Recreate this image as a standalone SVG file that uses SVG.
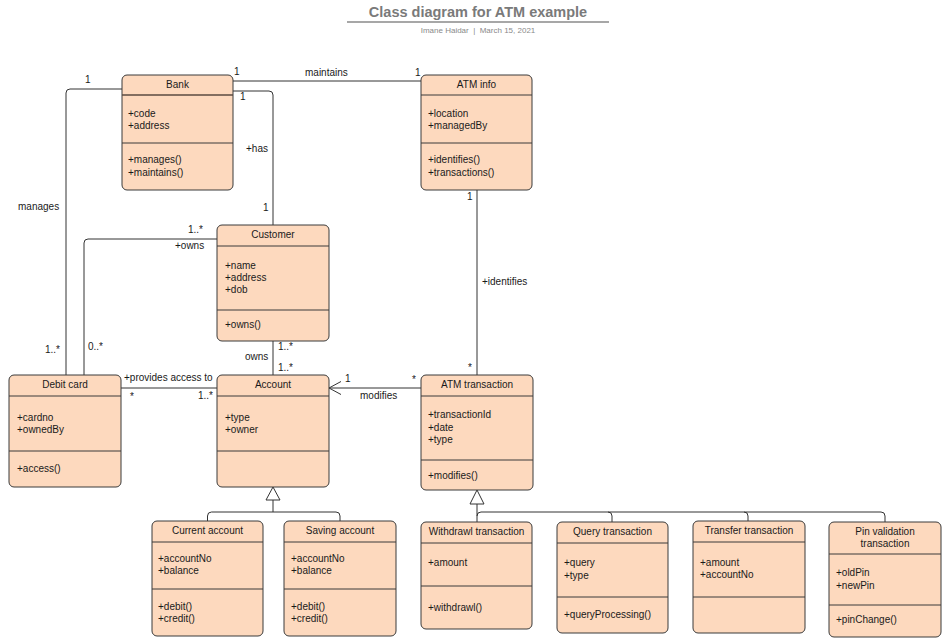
<svg xmlns="http://www.w3.org/2000/svg" width="951" height="644" viewBox="0 0 951 644">
<style>
  .box { fill: #fdd9be; stroke: #3a3a3a; stroke-width: 1; }
  .sep { stroke: #3a3a3a; stroke-width: 1; fill: none; }
  .hsep { stroke: #5a4a40; stroke-width: 1.4; fill: none; }
  .hd { font-family: "Liberation Sans", Arial, sans-serif; font-size: 10px; fill: #1a1a1a; text-anchor: middle; }
  .tx { font-family: "Liberation Sans", Arial, sans-serif; font-size: 10px; fill: #1a1a1a; }
  .lb { font-family: "Liberation Sans", Arial, sans-serif; font-size: 10px; fill: #1a1a1a; }
  .ln { stroke: #333333; stroke-width: 1; fill: none; }
  .tri { fill: #ffffff; stroke: #333333; stroke-width: 1; }
</style>
<rect width="951" height="644" fill="#ffffff"/>

<g id="title">
  <text x="478" y="17" font-family="Liberation Sans, Arial, sans-serif" font-size="14.5" font-weight="bold" fill="#7a7a7a" text-anchor="middle">Class diagram for ATM example</text>
  <line x1="347" y1="22" x2="609" y2="22" stroke="#8a8a8a" stroke-width="1.5"/>
  <text x="478" y="32.5" font-family="Liberation Sans, Arial, sans-serif" font-size="8" fill="#8a8a8a" text-anchor="middle">Imane Haidar &#160;|&#160; March 15, 2021</text>
</g>

<g id="connectors">
  <!-- Bank - ATM info -->
  <path class="ln" d="M233,81 H421"/>
  <!-- Bank - Customer -->
  <path class="ln" d="M233,91 H269 Q273,91 273,95 V225"/>
  <!-- Bank - Debit card -->
  <path class="ln" d="M122,89 H70 Q66,89 66,93 V375"/>
  <!-- Customer - Debit card -->
  <path class="ln" d="M217,239 H88 Q84,239 84,243 V375"/>
  <!-- Customer - Account -->
  <path class="ln" d="M273,341 V375"/>
  <!-- Debit card - Account -->
  <path class="ln" d="M121,388 H217"/>
  <!-- ATM transaction - Account -->
  <path class="ln" d="M421,388 H329"/>
  <path class="ln" d="M341,381.5 L329,388 L341,394.5"/>
  <!-- ATM info - ATM transaction -->
  <path class="ln" d="M477,190 V375"/>
  <!-- Generalization: Account -->
  <polygon class="tri" points="273,487 266,500 280,500"/>
  <path class="ln" d="M273,500 V512"/>
  <path class="ln" d="M207.5,521 V516 Q207.5,512 211.5,512 H336 Q340,512 340,516 V521"/>
  <!-- Generalization: ATM transaction -->
  <polygon class="tri" points="477,490 470,504 484,504"/>
  <path class="ln" d="M477,504 V522"/>
  <path class="ln" d="M477,516 Q477,512 481,512 H881 Q885,512 885,516 V522"/>
  <path class="ln" d="M608,512 Q612,512 612,516 V522"/>
  <path class="ln" d="M744,512 Q748,512 748,516 V521"/>

  <!-- labels -->
  <text class="lb" x="234" y="75">1</text>
  <text class="lb" x="305" y="76">maintains</text>
  <text class="lb" x="415" y="75.5">1</text>
  <text class="lb" x="240" y="100">1</text>
  <text class="lb" x="246" y="152">+has</text>
  <text class="lb" x="263" y="211">1</text>
  <text class="lb" x="85" y="83">1</text>
  <text class="lb" x="18" y="210">manages</text>
  <text class="lb" x="45" y="353">1..*</text>
  <text class="lb" x="188" y="233">1..*</text>
  <text class="lb" x="175" y="249">+owns</text>
  <text class="lb" x="88" y="350">0..*</text>
  <text class="lb" x="278" y="350">1..*</text>
  <text class="lb" x="245" y="360">owns</text>
  <text class="lb" x="278" y="371">1..*</text>
  <text class="lb" x="124" y="381">+provides access to</text>
  <text class="lb" x="130" y="400">*</text>
  <text class="lb" x="198" y="399">1..*</text>
  <text class="lb" x="345" y="382">1</text>
  <text class="lb" x="360" y="399">modifies</text>
  <text class="lb" x="412" y="383">*</text>
  <text class="lb" x="467" y="200">1</text>
  <text class="lb" x="482" y="285">+identifies</text>
  <text class="lb" x="468" y="371">*</text>
</g>

<g id="bank">
  <rect class="box" x="122" y="75" width="111" height="115" rx="5"/>
  <line class="hsep" x1="122" y1="95" x2="233" y2="95"/>
  <line class="sep" x1="122" y1="143" x2="233" y2="143"/>
  <text class="hd" x="177.5" y="88">Bank</text>
  <text class="tx" x="128" y="116.5">+code</text>
  <text class="tx" x="128" y="129">+address</text>
  <text class="tx" x="128" y="163">+manages()</text>
  <text class="tx" x="128" y="175.5">+maintains()</text>
</g>

<g id="atm-info">
  <rect class="box" x="421" y="75" width="111" height="115" rx="5"/>
  <line class="sep" x1="421" y1="95" x2="532" y2="95"/>
  <line class="sep" x1="421" y1="143" x2="532" y2="143"/>
  <text class="hd" x="476.5" y="88">ATM info</text>
  <text class="tx" x="428" y="116.5">+location</text>
  <text class="tx" x="428" y="129">+managedBy</text>
  <text class="tx" x="428" y="163">+identifies()</text>
  <text class="tx" x="428" y="175.5">+transactions()</text>
</g>

<g id="customer">
  <rect class="box" x="217" y="225" width="112" height="116" rx="5"/>
  <line class="sep" x1="217" y1="246" x2="329" y2="246"/>
  <line class="sep" x1="217" y1="310" x2="329" y2="310"/>
  <text class="hd" x="273" y="238">Customer</text>
  <text class="tx" x="225" y="269">+name</text>
  <text class="tx" x="225" y="281">+address</text>
  <text class="tx" x="225" y="293">+dob</text>
  <text class="tx" x="225" y="328">+owns()</text>
</g>

<g id="debit-card">
  <rect class="box" x="9" y="375" width="112" height="112" rx="5"/>
  <line class="sep" x1="9" y1="396" x2="121" y2="396"/>
  <line class="sep" x1="9" y1="451" x2="121" y2="451"/>
  <text class="hd" x="65" y="388">Debit card</text>
  <text class="tx" x="17" y="421">+cardno</text>
  <text class="tx" x="17" y="433">+ownedBy</text>
  <text class="tx" x="17" y="472">+access()</text>
</g>

<g id="account">
  <rect class="box" x="217" y="375" width="112" height="112" rx="5"/>
  <line class="sep" x1="217" y1="396" x2="329" y2="396"/>
  <line class="sep" x1="217" y1="451" x2="329" y2="451"/>
  <text class="hd" x="273" y="388">Account</text>
  <text class="tx" x="225" y="421">+type</text>
  <text class="tx" x="225" y="433">+owner</text>
</g>

<g id="atm-transaction">
  <rect class="box" x="421" y="375" width="112" height="115" rx="5"/>
  <line class="sep" x1="421" y1="396" x2="533" y2="396"/>
  <line class="sep" x1="421" y1="460" x2="533" y2="460"/>
  <text class="hd" x="477" y="388">ATM transaction</text>
  <text class="tx" x="428" y="418">+transactionId</text>
  <text class="tx" x="428" y="430.5">+date</text>
  <text class="tx" x="428" y="443">+type</text>
  <text class="tx" x="428" y="479">+modifies()</text>
</g>

<g id="current-account">
  <rect class="box" x="152" y="521" width="111" height="115" rx="5"/>
  <line class="sep" x1="152" y1="542" x2="263" y2="542"/>
  <line class="sep" x1="152" y1="589" x2="263" y2="589"/>
  <text class="hd" x="207.5" y="534">Current account</text>
  <text class="tx" x="158" y="562">+accountNo</text>
  <text class="tx" x="158" y="574">+balance</text>
  <text class="tx" x="158" y="610">+debit()</text>
  <text class="tx" x="158" y="622">+credit()</text>
</g>

<g id="saving-account">
  <rect class="box" x="284" y="521" width="112" height="115" rx="5"/>
  <line class="sep" x1="284" y1="542" x2="396" y2="542"/>
  <line class="sep" x1="284" y1="589" x2="396" y2="589"/>
  <text class="hd" x="340" y="534">Saving account</text>
  <text class="tx" x="291" y="562">+accountNo</text>
  <text class="tx" x="291" y="574">+balance</text>
  <text class="tx" x="291" y="610">+debit()</text>
  <text class="tx" x="291" y="622">+credit()</text>
</g>

<g id="withdrawl-transaction">
  <rect class="box" x="421" y="522" width="111" height="107" rx="5"/>
  <line class="sep" x1="421" y1="543" x2="532" y2="543"/>
  <line class="sep" x1="421" y1="586" x2="532" y2="586"/>
  <text class="hd" x="476.5" y="535">Withdrawl transaction</text>
  <text class="tx" x="428" y="566">+amount</text>
  <text class="tx" x="428" y="611">+withdrawl()</text>
</g>

<g id="query-transaction">
  <rect class="box" x="557" y="522" width="111" height="111" rx="5"/>
  <line class="sep" x1="557" y1="543" x2="668" y2="543"/>
  <line class="sep" x1="557" y1="597" x2="668" y2="597"/>
  <text class="hd" x="612.5" y="535">Query transaction</text>
  <text class="tx" x="564" y="566">+query</text>
  <text class="tx" x="564" y="579">+type</text>
  <text class="tx" x="564" y="618">+queryProcessing()</text>
</g>

<g id="transfer-transaction">
  <rect class="box" x="693" y="521" width="112" height="112" rx="5"/>
  <line class="sep" x1="693" y1="542" x2="805" y2="542"/>
  <line class="sep" x1="693" y1="597" x2="805" y2="597"/>
  <text class="hd" x="749" y="534">Transfer transaction</text>
  <text class="tx" x="700" y="566">+amount</text>
  <text class="tx" x="700" y="578">+accountNo</text>
</g>

<g id="pin-validation-transaction">
  <rect class="box" x="829" y="522" width="112" height="115" rx="5"/>
  <line class="sep" x1="829" y1="554" x2="941" y2="554"/>
  <line class="sep" x1="829" y1="605" x2="941" y2="605"/>
  <text class="hd" x="885" y="535">Pin validation</text>
  <text class="hd" x="885" y="547">transaction</text>
  <text class="tx" x="836" y="576">+oldPin</text>
  <text class="tx" x="836" y="588.5">+newPin</text>
  <text class="tx" x="836" y="623">+pinChange()</text>
</g>
</svg>
